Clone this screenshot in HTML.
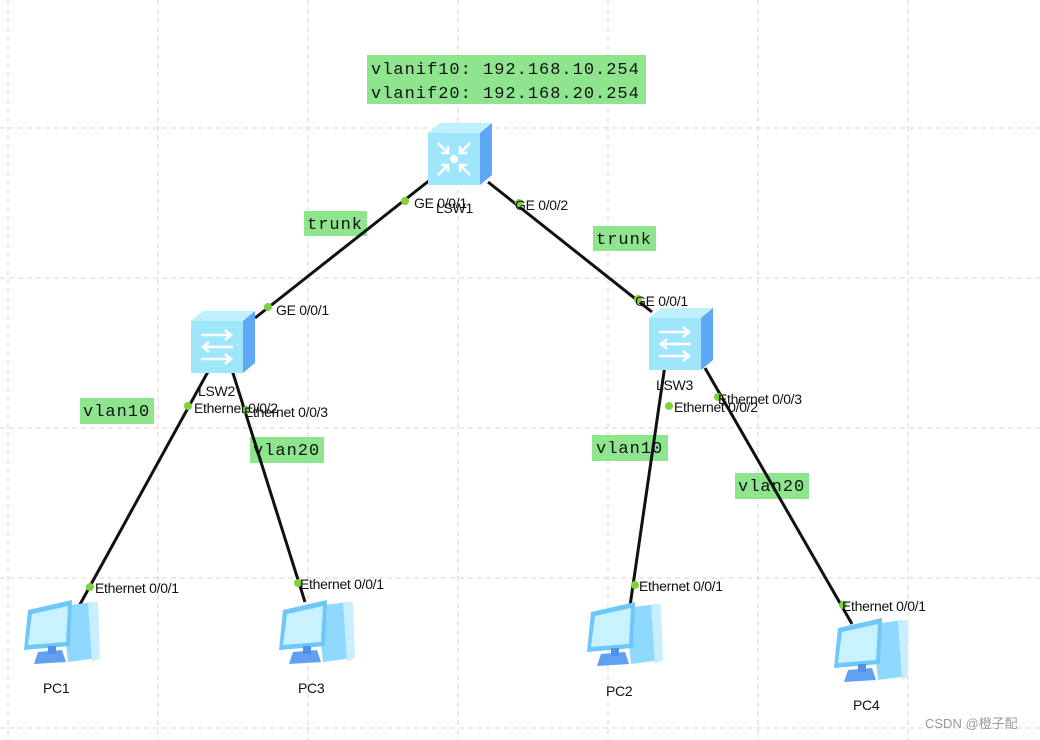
<!DOCTYPE html>
<html><head><meta charset="utf-8"><style>
body{margin:0;background:#fff}
svg{display:block}
.l{font-family:"Liberation Sans",sans-serif;font-size:14px;fill:#111;letter-spacing:-0.3px}
.m{font-family:"Liberation Mono",monospace;font-size:17px;fill:#111;letter-spacing:1px}
.g{fill:#8ee58e}
</style></head><body>
<svg width="1040" height="740" viewBox="0 0 1040 740">
<defs>
<g id="sw">
<polygon points="0,10 12,0 64,0 52,10" fill="#bff0ff"/>
<polygon points="52,10 64,0 64,52 52,62" fill="#5fa8f5"/>
<rect x="0" y="10" width="52" height="52" fill="#9fe6fb"/>
<g stroke="#fff" stroke-width="2.5" fill="none">
<path d="M10,24 H40 M34,19 L40,24 L34,29"/>
<path d="M42,36 H12 M18,31 L12,36 L18,41"/>
<path d="M10,48 H40 M34,43 L40,48 L34,53"/>
</g>
</g>
<g id="core">
<polygon points="0,10 12,0 64,0 52,10" fill="#bff0ff"/>
<polygon points="52,10 64,0 64,52 52,62" fill="#5fa8f5"/>
<rect x="0" y="10" width="52" height="52" fill="#9fe6fb"/>
<circle cx="26" cy="36" r="4" fill="#fff"/>
<g stroke="#fff" stroke-width="2.5" fill="none">
<path d="M10,20 L20,30 M20,23 V30 H13"/>
<path d="M42,20 L32,30 M32,23 V30 H39"/>
<path d="M10,52 L20,42 M20,49 V42 H13"/>
<path d="M42,52 L32,42 M32,49 V42 H39"/>
</g>
</g>
<g id="pc">
<polygon points="40,10 72,6 76,62 46,66" fill="#8fd8ff"/>
<polygon points="66,6 76,6 78,62 70,66" fill="#c8efff"/>
<polygon points="6,14 50,4 48,50 2,54" fill="#6fc6f8"/>
<polygon points="10,18 46,10 44,46 6,49" fill="#c8f2ff"/>
<polygon points="16,56 40,54 44,66 12,68" fill="#5fa0f0"/>
<rect x="26" y="50" width="8" height="8" fill="#4f90e8"/>
</g>
</defs>
<g stroke="#d6d6d6" stroke-dasharray="5,4" stroke-width="1">
<line x1="8" y1="0" x2="8" y2="740"/><line x1="158" y1="0" x2="158" y2="740"/>
<line x1="308" y1="0" x2="308" y2="740"/><line x1="458" y1="0" x2="458" y2="740"/>
<line x1="608" y1="0" x2="608" y2="740"/><line x1="758" y1="0" x2="758" y2="740"/>
<line x1="908" y1="0" x2="908" y2="740"/>
<line x1="0" y1="128" x2="1040" y2="128"/><line x1="0" y1="278" x2="1040" y2="278"/>
<line x1="0" y1="428" x2="1040" y2="428"/><line x1="0" y1="578" x2="1040" y2="578"/>
<line x1="0" y1="728" x2="1040" y2="728"/>
</g>
<rect class="g" x="367" y="55" width="279" height="49"/>
<text class="m" x="371" y="74">vlanif10: 192.168.10.254</text>
<text class="m" x="371" y="98">vlanif20: 192.168.20.254</text>
<rect class="g" x="304" y="211" width="63" height="25"/><text class="m" x="307" y="229">trunk</text>
<rect class="g" x="593" y="226" width="63" height="25"/><text class="m" x="596" y="244">trunk</text>
<rect class="g" x="80" y="398" width="74" height="26"/><text class="m" x="83" y="416">vlan10</text>
<rect class="g" x="250" y="437" width="74" height="26"/><text class="m" x="253" y="455">vlan20</text>
<rect class="g" x="592" y="435" width="76" height="26"/><text class="m" x="596" y="453">vlan10</text>
<rect class="g" x="735" y="473" width="74" height="26"/><text class="m" x="738" y="491">vlan20</text>
<g stroke="#111" stroke-width="3">
<line x1="430" y1="180" x2="255" y2="318"/>
<line x1="488" y1="182" x2="652" y2="312"/>
<line x1="210" y1="368" x2="78" y2="608"/>
<line x1="232" y1="370" x2="305" y2="602"/>
<line x1="665" y1="365" x2="630" y2="606"/>
<line x1="705" y1="368" x2="852" y2="624"/>
</g>
<use href="#core" x="428" y="123"/>
<use href="#sw" x="191" y="311"/>
<use href="#sw" x="649" y="308"/>
<use href="#pc" x="22" y="596"/>
<use href="#pc" x="277" y="596"/>
<use href="#pc" x="585" y="598"/>
<svg x="830" y="612" width="78" height="80" overflow="hidden"><use href="#pc" x="2" y="2"/></svg>
<g fill="#7ed23a">
<circle cx="405" cy="201" r="4"/><circle cx="519" cy="203" r="4"/>
<circle cx="268" cy="307" r="4"/><circle cx="638" cy="299" r="4"/>
<circle cx="188" cy="406" r="4"/><circle cx="246" cy="410" r="4"/>
<circle cx="669" cy="406" r="4"/><circle cx="718" cy="397" r="4"/>
<circle cx="90" cy="587" r="4"/><circle cx="298" cy="583" r="4"/>
<circle cx="635" cy="585" r="4"/><circle cx="843" cy="605" r="4"/>
</g>
<text class="l" x="414" y="208">GE 0/0/1</text>
<text class="l" x="436" y="213">LSW1</text>
<text class="l" x="515" y="210">GE 0/0/2</text>
<text class="l" x="276" y="315">GE 0/0/1</text>
<text class="l" x="635" y="306">GE 0/0/1</text>
<text class="l" x="198" y="396">LSW2</text>
<text class="l" x="656" y="390">LSW3</text>
<text class="l" x="194" y="413">Ethernet 0/0/2</text>
<text class="l" x="244" y="417">Ethernet 0/0/3</text>
<text class="l" x="674" y="412">Ethernet 0/0/2</text>
<text class="l" x="718" y="404">Ethernet 0/0/3</text>
<text class="l" x="95" y="593">Ethernet 0/0/1</text>
<text class="l" x="300" y="589">Ethernet 0/0/1</text>
<text class="l" x="639" y="591">Ethernet 0/0/1</text>
<text class="l" x="842" y="611">Ethernet 0/0/1</text>
<text class="l" x="43" y="693" font-size="15">PC1</text>
<text class="l" x="298" y="693" font-size="15">PC3</text>
<text class="l" x="606" y="696" font-size="15">PC2</text>
<text class="l" x="853" y="710" font-size="15">PC4</text>
<text x="925" y="728" font-family="'Liberation Sans','Noto Sans CJK SC',sans-serif" font-size="13" fill="#999">CSDN @橙子配</text>
</svg>
</body></html>
